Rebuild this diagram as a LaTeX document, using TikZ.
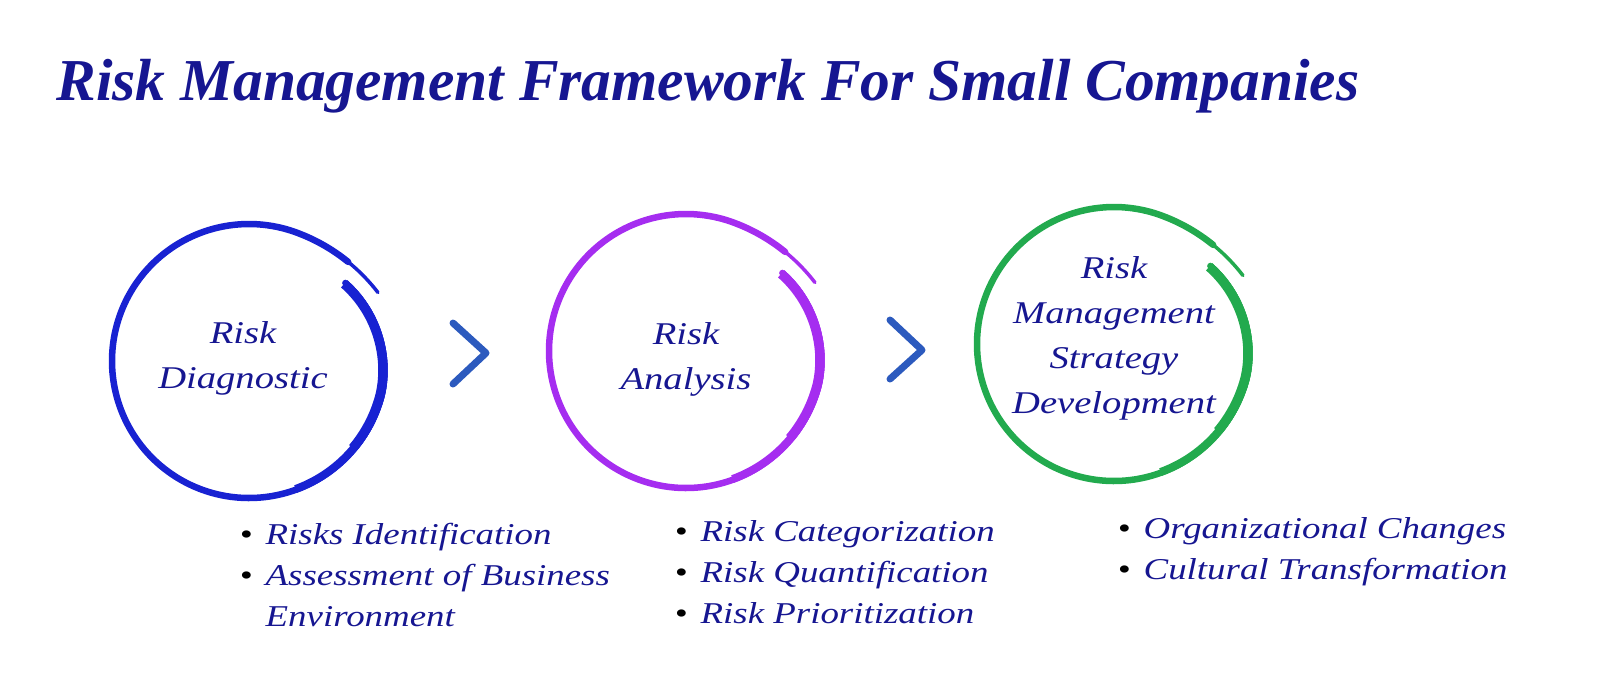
\documentclass[tikz,border=0pt]{standalone}
\usepackage{fontspec}
\setmainfont{Liberation Serif}[FakeStretch=1.22]
\newfontfamily\titlefont{Liberation Serif}

\definecolor{textblue}{RGB}{22,22,145}
\definecolor{diagblue}{RGB}{24,34,210}
\definecolor{anapurple}{RGB}{165,45,240}
\definecolor{stratgreen}{RGB}{34,170,78}
\definecolor{chevblue}{RGB}{44,90,190}

\newcommand{\listdot}{\textcolor{black}{\textbullet}}

\tikzset{
  title/.style={text=textblue,font=\titlefont\fontsize{16.9}{20}\selectfont\bfseries\itshape,inner sep=0},
  circlelabel/.style={text=textblue,align=center,font=\fontsize{9}{12.8}\selectfont\itshape,inner sep=0},
  bulletlist/.style={text=textblue,font=\fontsize{8.6}{11.7}\selectfont\itshape,inner sep=0},
  brush/.style={line width=0.065cm,line cap=round,smooth,samples=120,variable=\t},
  thickbrush/.style={brush,line width=#1,line cap=butt},
  chevron/.style={chevblue,line width=0.07cm,line cap=round,line join=round}
}

\begin{document}
\begin{tikzpicture}[x=0.01cm,y=-0.01cm,
  declare function={brushrad(\a)=137+9*max(0,(70-\a)/42)^2-13*max(0,(\a-345)/54)^1.5;}]
  \useasboundingbox (0,0) rectangle (1600,696);

  % title
  \node[title,anchor=base west] (title) at (56,100) {Risk Management Framework For Small Companies};

  % brush circles
  \draw[brush,diagblue,line width=0.035cm,domain=28:50] plot ({249+brushrad(\t)*cos(\t)},{361-brushrad(\t)*sin(\t)});
  \draw[brush,diagblue,domain=45:399] plot ({249+brushrad(\t)*cos(\t)},{361-brushrad(\t)*sin(\t)});
  \draw[thickbrush=0.08cm,diagblue,domain=290:399] plot ({249+(brushrad(\t)-0.75)*cos(\t)},{361-(brushrad(\t)-0.75)*sin(\t)});
  \draw[thickbrush=0.095cm,diagblue,domain=320:399] plot ({249+(brushrad(\t)-1.5)*cos(\t)},{361-(brushrad(\t)-1.5)*sin(\t)});

  \draw[brush,anapurple,line width=0.035cm,domain=28:50] plot ({686+brushrad(\t)*cos(\t)},{351-brushrad(\t)*sin(\t)});
  \draw[brush,anapurple,domain=45:399] plot ({686+brushrad(\t)*cos(\t)},{351-brushrad(\t)*sin(\t)});
  \draw[thickbrush=0.08cm,anapurple,domain=290:399] plot ({686+(brushrad(\t)-0.75)*cos(\t)},{351-(brushrad(\t)-0.75)*sin(\t)});
  \draw[thickbrush=0.095cm,anapurple,domain=320:399] plot ({686+(brushrad(\t)-1.5)*cos(\t)},{351-(brushrad(\t)-1.5)*sin(\t)});

  \draw[brush,stratgreen,line width=0.035cm,domain=28:50] plot ({1114+brushrad(\t)*cos(\t)},{344-brushrad(\t)*sin(\t)});
  \draw[brush,stratgreen,domain=45:399] plot ({1114+brushrad(\t)*cos(\t)},{344-brushrad(\t)*sin(\t)});
  \draw[thickbrush=0.08cm,stratgreen,domain=290:399] plot ({1114+(brushrad(\t)-0.75)*cos(\t)},{344-(brushrad(\t)-0.75)*sin(\t)});
  \draw[thickbrush=0.095cm,stratgreen,domain=320:399] plot ({1114+(brushrad(\t)-1.5)*cos(\t)},{344-(brushrad(\t)-1.5)*sin(\t)});

  % circle labels
  \node[circlelabel] (diag) at (243,358) {Risk\\Diagnostic};
  \node[circlelabel] (ana) at (686,359) {Risk\\Analysis};
  \node[circlelabel] (strat) at (1114,338) {Risk\\Management\\Strategy\\Development};

  % chevrons
  \draw[chevron] (453,323) -- (486,353) -- (453,384);
  \draw[chevron] (890,320) -- (922,350) -- (890,379);

  % bullet lists
  \node[bulletlist,anchor=base west] (diaglist) at (239,544) {\begin{tabular}[t]{@{}c@{\hspace{0.13cm}}l@{}}
    \listdot & Risks Identification\\
    \listdot & Assessment of Business\\
             & Environment
  \end{tabular}};
  \node[bulletlist,anchor=base west] (analist) at (674,541) {\begin{tabular}[t]{@{}c@{\hspace{0.13cm}}l@{}}
    \listdot & Risk Categorization\\
    \listdot & Risk Quantification\\
    \listdot & Risk Prioritization
  \end{tabular}};
  \node[bulletlist,anchor=base west] (stratlist) at (1117,538) {\begin{tabular}[t]{@{}c@{\hspace{0.13cm}}l@{}}
    \listdot & Organizational Changes\\
    \listdot & Cultural Transformation
  \end{tabular}};
\end{tikzpicture}
\end{document}
